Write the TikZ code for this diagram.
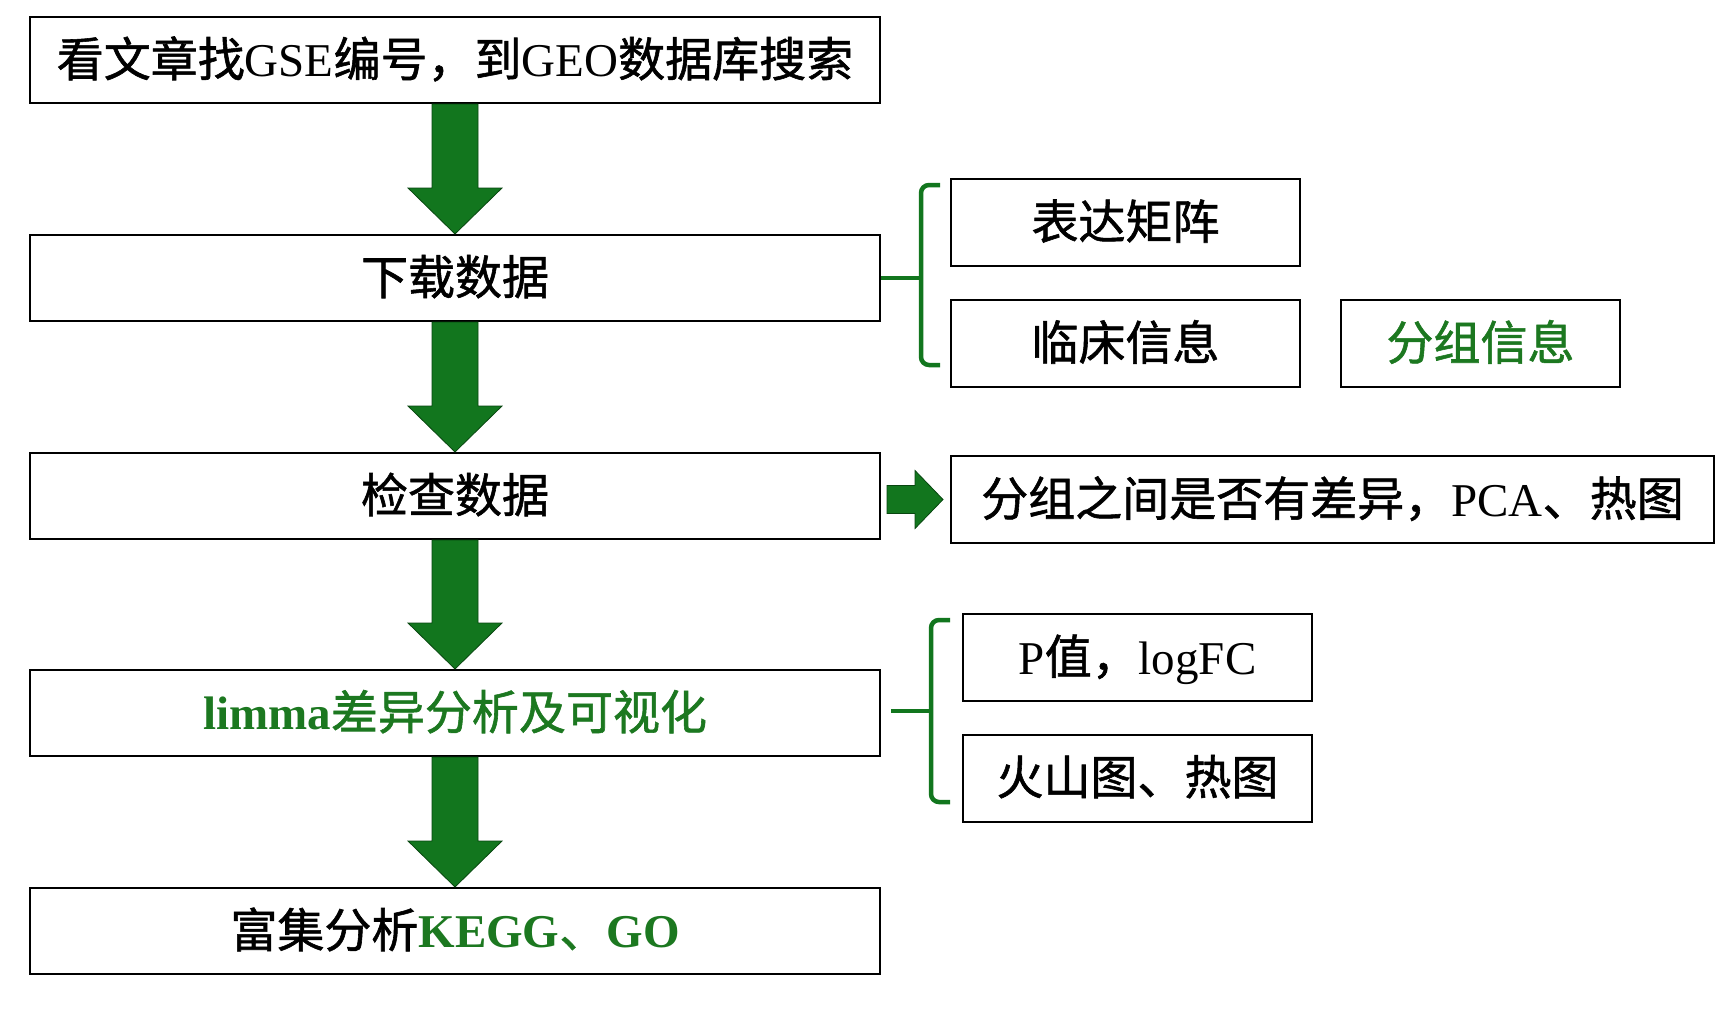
\documentclass[tikz,border=0pt]{standalone}
\usepackage{fontspec}
\setmainfont{Liberation Serif}
\newfontfamily\cjk[FakeBold=1.2]{Noto Sans CJK SC}
\usetikzlibrary{calc}
\definecolor{mygreen}{RGB}{18,118,30}
\definecolor{myedge}{RGB}{8,70,16}
\definecolor{txtgreen}{RGB}{28,120,32}
\tikzset{
  mainbox/.style={draw=black, line width=2pt, fill=white, inner sep=0pt,
    minimum width=850pt, minimum height=86pt, text height=40pt, text depth=7pt,
    font=\fontsize{47}{56}\selectfont},
  sidebox/.style={draw=black, line width=2pt, fill=white, inner sep=0pt,
    minimum height=87pt, text height=40pt, text depth=7pt,
    font=\fontsize{47}{56}\selectfont},
  blockarrow/.style={fill=mygreen, draw=myedge, line width=0.8pt, line join=miter},
  bracestyle/.style={draw=mygreen, line width=4.5pt}
}
\newcommand\downblk[2]{%
  \path[blockarrow] let \p1=(#1.south), \p2=(#2.north) in
    (\x1-23pt,\y1) -- (\x1-23pt,\y2+46pt) -- (\x1-47pt,\y2+46pt) -- (\x1,\y2)
    -- (\x1+47pt,\y2+46pt) -- (\x1+23pt,\y2+46pt) -- (\x1+23pt,\y1) -- cycle;}
\begin{document}
\begin{tikzpicture}[x=1pt,y=-1pt]
\useasboundingbox[fill=white] (0,0) rectangle (1736,1012);
% main column
\node[mainbox] (b1) at (455,60) {{\cjk 看文章找}GSE{\cjk 编号，到}GEO{\cjk 数据库搜索}};
\node[mainbox] (b2) at (455,278) {\cjk 下载数据};
\node[mainbox] (b3) at (455,496) {\cjk 检查数据};
\node[mainbox] (b4) at (455,713) {\color{txtgreen}\textbf{limma}{\cjk 差异分析及可视化}};
\node[mainbox] (b5) at (455,931) {{\cjk 富集分析}\color{txtgreen}\textbf{KEGG}{\cjk 、}\textbf{GO}};
% side boxes
\node[sidebox, minimum width=349pt] (r1) at (1125.5,222.5) {\cjk 表达矩阵};
\node[sidebox, minimum width=349pt] (r2) at (1125.5,343.5) {\cjk 临床信息};
\node[sidebox, minimum width=279pt] (r3) at (1480.5,343.5) {\cjk\color{txtgreen}分组信息};
\node[sidebox, minimum width=763pt] (r4) at (1332.5,499.5) {{\cjk 分组之间是否有差异，}PCA{\cjk 、热图}};
\node[sidebox, minimum width=349pt] (r5) at (1137.5,657.5) {P{\cjk 值，}logFC};
\node[sidebox, minimum width=349pt] (r6) at (1137.5,778) {\cjk 火山图、热图};
% down arrows
\downblk{b1}{b2}
\downblk{b2}{b3}
\downblk{b3}{b4}
\downblk{b4}{b5}
% right arrow
\path[blockarrow] let \p1=($(b3.east)+(6,0)$), \p2=($(r4.west)+(-7,0)$) in
  (\x1,\y2+14pt) -- (\x2-28pt,\y2+14pt) -- (\x2-28pt,\y2+29pt) -- (\x2,\y2)
  -- (\x2-28pt,\y2-29pt) -- (\x2-28pt,\y2-14pt) -- (\x1,\y2-14pt) -- cycle;
% brace 1
\coordinate (br1) at (921,278);
\draw[bracestyle] (b2.east) -- (br1);
\draw[bracestyle, rounded corners=8pt] (940,185) -- (921,185) -- (921,365) -- (940,365);
% brace 2
\coordinate (bs2) at (891,711);
\coordinate (br2) at (931,711);
\draw[bracestyle] (bs2) -- (br2);
\draw[bracestyle, rounded corners=8pt] (950,620) -- (931,620) -- (931,802) -- (950,802);
\end{tikzpicture}
\end{document}
